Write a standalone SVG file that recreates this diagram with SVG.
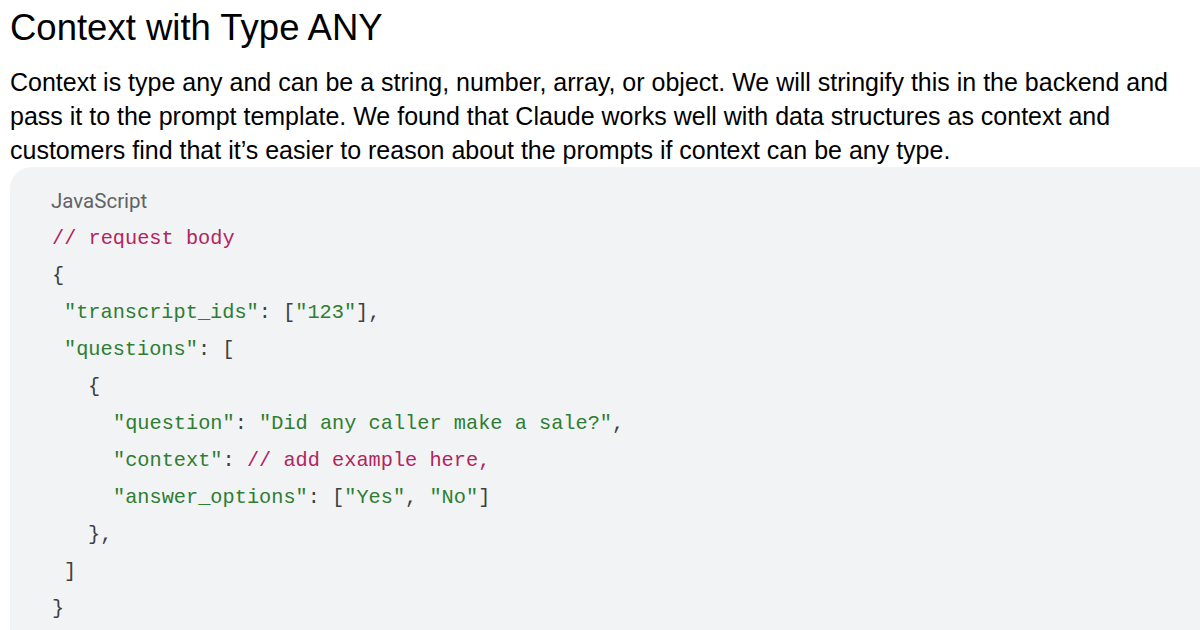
<svg xmlns="http://www.w3.org/2000/svg" width="1200" height="630" viewBox="0 0 1200 630">
<style>
.h{font-family:"Liberation Sans",Arial,sans-serif;fill:#000}
.c{font-family:"Liberation Mono","DejaVu Sans Mono",monospace;font-size:20.3px;fill:#3c4043}
.g{fill:#2e7d32}.m{fill:#b3245e}
</style>
<rect width="1200" height="630" fill="#fff"/>
<text class="h" x="10" y="40" font-size="36.5">Context with Type ANY</text>
<g class="h" font-size="25">
<text x="10" y="91">Context is type any and can be a string, number, array, or object. We will stringify this in the backend and</text>
<text x="10" y="125">pass it to the prompt template. We found that Claude works well with data structures as context and</text>
<text x="10" y="159">customers find that it’s easier to reason about the prompts if context can be any type.</text>
</g>
<rect x="10" y="167" width="1220" height="500" rx="22" fill="#f1f3f4"/>
<text x="51" y="208" font-family="Roboto,'Liberation Sans',sans-serif" font-size="20.5" fill="#5f6368">JavaScript</text>
<g class="c">
<text x="52" y="244" class="m">// request body</text>
<text x="52" y="281">{</text>
<text x="64" y="318"><tspan class="g">"transcript_ids"</tspan>: [<tspan class="g">"123"</tspan>],</text>
<text x="64" y="355"><tspan class="g">"questions"</tspan>: [</text>
<text x="88" y="392">{</text>
<text x="113" y="429"><tspan class="g">"question"</tspan>: <tspan class="g">"Did any caller make a sale?"</tspan>,</text>
<text x="113" y="466"><tspan class="g">"context"</tspan>: <tspan class="m">// add example here,</tspan></text>
<text x="113" y="503"><tspan class="g">"answer_options"</tspan>: [<tspan class="g">"Yes"</tspan>, <tspan class="g">"No"</tspan>]</text>
<text x="88" y="540">},</text>
<text x="64" y="577">]</text>
<text x="52" y="614">}</text>
</g>
</svg>
